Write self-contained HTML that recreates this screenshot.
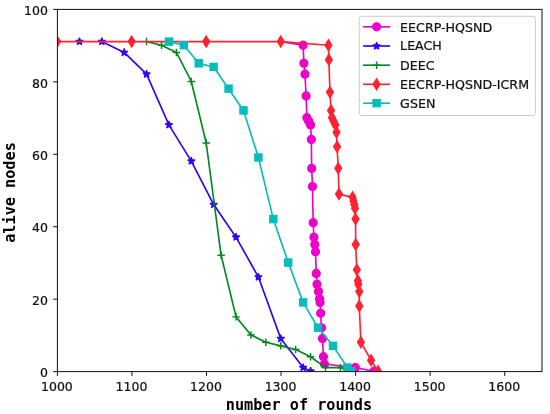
<!DOCTYPE html>
<html lang="en"><head><meta charset="utf-8"><title>alive nodes vs number of rounds</title>
<style>html,body{margin:0;padding:0;background:#fff}svg{display:block}.tk{font-family:"DejaVu Sans","Liberation Sans",sans-serif;font-size:12.5px;fill:#111;stroke:#111;stroke-width:0.22px}.lg{font-size:12.65px}.lb{font-family:"DejaVu Sans Mono","Liberation Mono",monospace;font-weight:bold;font-size:15.2px;fill:#000}</style></head><body>
<svg width="550" height="414" viewBox="0 0 550 414">
<rect width="550" height="414" fill="#fff"/>
<defs>
<clipPath id="ax"><rect x="57.4" y="9.4" width="484.6" height="362.2"/></clipPath>
<circle id="mk_m" r="3.98" fill="#ee00cc" stroke="#ee00cc" stroke-width="1.25"/>
<polygon id="mk_b" points="0,-3.92 0.88,-1.21 3.73,-1.21 1.42,0.46 2.3,3.17 0,1.5 -2.3,3.17 -1.42,0.46 -3.73,-1.21 -0.88,-1.21" fill="#3300ff" stroke="#3300ff" stroke-width="1.25" stroke-linejoin="bevel"/>
<path id="mk_g" d="M-3.75,0H3.75M0,-3.75V3.75" fill="none" stroke="#008a1e" stroke-width="1.45"/>
<polygon id="mk_r" points="0,-5.55 3.45,0 0,5.55 -3.45,0" fill="#ff2233" stroke="#ff2233" stroke-width="1.25" stroke-linejoin="miter"/>
<rect id="mk_c" x="-3.6" y="-3.6" width="7.2" height="7.2" fill="#08bcbc" stroke="#08bcbc" stroke-width="1.25"/>
</defs>
<g clip-path="url(#ax)"><g transform="translate(-0.3,-0.4)">
<polyline points="281.06,42 303.43,45.62 304.17,63.73 305.29,74.6 306.41,96.33 307.16,118.06 309.02,121.68 310.88,125.3 311.63,139.79 312,168.77 312.75,186.88 313.49,223.1 314.24,237.59 315.13,244.83 315.8,252.07 316.55,273.81 317.29,284.67 318.79,291.92 319.83,299.16 320.35,302.78 320.95,313.65 321.77,328.14 322.81,339 323.71,357.11 324.68,364.36 355.62,367.98 374.25,371.6" fill="none" stroke="#ee00cc" stroke-width="1.65" stroke-linejoin="round" stroke-linecap="butt"/>
<use href="#mk_m" x="303.43" y="45.62"/>
<use href="#mk_m" x="304.17" y="63.73"/>
<use href="#mk_m" x="305.29" y="74.6"/>
<use href="#mk_m" x="306.41" y="96.33"/>
<use href="#mk_m" x="307.16" y="118.06"/>
<use href="#mk_m" x="309.02" y="121.68"/>
<use href="#mk_m" x="310.88" y="125.3"/>
<use href="#mk_m" x="311.63" y="139.79"/>
<use href="#mk_m" x="312" y="168.77"/>
<use href="#mk_m" x="312.75" y="186.88"/>
<use href="#mk_m" x="313.49" y="223.1"/>
<use href="#mk_m" x="314.24" y="237.59"/>
<use href="#mk_m" x="315.13" y="244.83"/>
<use href="#mk_m" x="315.8" y="252.07"/>
<use href="#mk_m" x="316.55" y="273.81"/>
<use href="#mk_m" x="317.29" y="284.67"/>
<use href="#mk_m" x="318.79" y="291.92"/>
<use href="#mk_m" x="319.83" y="299.16"/>
<use href="#mk_m" x="320.35" y="302.78"/>
<use href="#mk_m" x="320.95" y="313.65"/>
<use href="#mk_m" x="321.77" y="328.14"/>
<use href="#mk_m" x="322.81" y="339"/>
<use href="#mk_m" x="323.71" y="357.11"/>
<use href="#mk_m" x="324.68" y="364.36"/>
<use href="#mk_m" x="355.62" y="367.98"/>
<use href="#mk_m" x="374.25" y="371.6"/>
<polyline points="102.13,42 124.5,52.86 146.86,74.6 169.23,125.3 191.6,161.52 213.96,204.99 236.33,237.59 258.7,277.43 281.06,339 303.43,367.98 310.88,371.6" fill="none" stroke="#3300ff" stroke-width="1.65" stroke-linejoin="round" stroke-linecap="butt"/>
<use href="#mk_b" x="79.77" y="42"/>
<use href="#mk_b" x="102.13" y="42"/>
<use href="#mk_b" x="124.5" y="52.86"/>
<use href="#mk_b" x="146.86" y="74.6"/>
<use href="#mk_b" x="169.23" y="125.3"/>
<use href="#mk_b" x="191.6" y="161.52"/>
<use href="#mk_b" x="213.96" y="204.99"/>
<use href="#mk_b" x="236.33" y="237.59"/>
<use href="#mk_b" x="258.7" y="277.43"/>
<use href="#mk_b" x="281.06" y="339"/>
<use href="#mk_b" x="303.43" y="367.98"/>
<use href="#mk_b" x="310.88" y="371.6"/>
<polyline points="146.86,42 161.78,45.62 176.69,52.86 191.6,81.84 206.51,143.41 221.42,255.7 236.33,317.27 251.24,335.38 266.15,342.62 281.06,346.25 295.97,349.87 310.88,357.11 325.79,367.98 340.7,367.98 348.16,371.6" fill="none" stroke="#008a1e" stroke-width="1.65" stroke-linejoin="round" stroke-linecap="butt"/>
<use href="#mk_g" x="146.86" y="42"/>
<use href="#mk_g" x="161.78" y="45.62"/>
<use href="#mk_g" x="176.69" y="52.86"/>
<use href="#mk_g" x="191.6" y="81.84"/>
<use href="#mk_g" x="206.51" y="143.41"/>
<use href="#mk_g" x="221.42" y="255.7"/>
<use href="#mk_g" x="236.33" y="317.27"/>
<use href="#mk_g" x="251.24" y="335.38"/>
<use href="#mk_g" x="266.15" y="342.62"/>
<use href="#mk_g" x="281.06" y="346.25"/>
<use href="#mk_g" x="295.97" y="349.87"/>
<use href="#mk_g" x="310.88" y="357.11"/>
<use href="#mk_g" x="325.79" y="367.98"/>
<use href="#mk_g" x="340.7" y="367.98"/>
<use href="#mk_g" x="348.16" y="371.6"/>
<polyline points="57.4,42 131.95,42 206.51,42 281.06,42 328.78,45.62 329.15,60.11 330.27,92.71 331.31,110.82 332.28,118.06 333.99,121.68 335.71,125.3 336.75,132.55 337.35,147.04 338.54,168.77 339.29,194.48 352.86,197.74 353.83,201.37 354.57,204.99 355.32,208.61 355.84,219.48 355.99,244.83 357.11,270.18 358.15,281.05 358.6,284.67 359.57,291.92 359.57,306.4 361.21,342.62 371.42,360.73 378.35,371.6" fill="none" stroke="#ff2233" stroke-width="1.65" stroke-linejoin="round" stroke-linecap="butt"/>
<use href="#mk_r" x="57.4" y="42"/>
<use href="#mk_r" x="131.95" y="42"/>
<use href="#mk_r" x="206.51" y="42"/>
<use href="#mk_r" x="281.06" y="42"/>
<use href="#mk_r" x="328.78" y="45.62"/>
<use href="#mk_r" x="329.15" y="60.11"/>
<use href="#mk_r" x="330.27" y="92.71"/>
<use href="#mk_r" x="331.31" y="110.82"/>
<use href="#mk_r" x="332.28" y="118.06"/>
<use href="#mk_r" x="333.99" y="121.68"/>
<use href="#mk_r" x="335.71" y="125.3"/>
<use href="#mk_r" x="336.75" y="132.55"/>
<use href="#mk_r" x="337.35" y="147.04"/>
<use href="#mk_r" x="338.54" y="168.77"/>
<use href="#mk_r" x="339.29" y="194.48"/>
<use href="#mk_r" x="352.86" y="197.74"/>
<use href="#mk_r" x="353.83" y="201.37"/>
<use href="#mk_r" x="354.57" y="204.99"/>
<use href="#mk_r" x="355.32" y="208.61"/>
<use href="#mk_r" x="355.84" y="219.48"/>
<use href="#mk_r" x="355.99" y="244.83"/>
<use href="#mk_r" x="357.11" y="270.18"/>
<use href="#mk_r" x="358.15" y="281.05"/>
<use href="#mk_r" x="358.6" y="284.67"/>
<use href="#mk_r" x="359.57" y="291.92"/>
<use href="#mk_r" x="359.57" y="306.4"/>
<use href="#mk_r" x="361.21" y="342.62"/>
<use href="#mk_r" x="371.42" y="360.73"/>
<use href="#mk_r" x="378.35" y="371.6"/>
<polyline points="169.23,42 184.14,45.62 199.05,63.73 213.96,67.35 228.87,89.08 243.78,110.82 258.7,157.9 273.61,219.48 288.52,262.94 303.43,302.78 318.34,328.14 333.25,346.25 347.79,367.98 351.51,371.6" fill="none" stroke="#08bcbc" stroke-width="1.65" stroke-linejoin="round" stroke-linecap="butt"/>
<use href="#mk_c" x="169.23" y="42"/>
<use href="#mk_c" x="184.14" y="45.62"/>
<use href="#mk_c" x="199.05" y="63.73"/>
<use href="#mk_c" x="213.96" y="67.35"/>
<use href="#mk_c" x="228.87" y="89.08"/>
<use href="#mk_c" x="243.78" y="110.82"/>
<use href="#mk_c" x="258.7" y="157.9"/>
<use href="#mk_c" x="273.61" y="219.48"/>
<use href="#mk_c" x="288.52" y="262.94"/>
<use href="#mk_c" x="303.43" y="302.78"/>
<use href="#mk_c" x="318.34" y="328.14"/>
<use href="#mk_c" x="333.25" y="346.25"/>
<use href="#mk_c" x="347.79" y="367.98"/>
<use href="#mk_c" x="351.51" y="371.6"/>
</g></g>
<rect x="57.4" y="9.4" width="484.6" height="362.2" fill="none" stroke="#111" stroke-width="1.0"/>
<path d="M57.4,371.6v4.3M131.95,371.6v4.3M206.51,371.6v4.3M281.06,371.6v4.3M355.62,371.6v4.3M430.17,371.6v4.3M504.72,371.6v4.3M57.4,371.6h-4.3M57.4,299.16h-4.3M57.4,226.72h-4.3M57.4,154.28h-4.3M57.4,81.84h-4.3M57.4,9.4h-4.3" stroke="#111" stroke-width="1.0" fill="none"/>
<text class="tk" x="56.9" y="390.5" text-anchor="middle">1000</text>
<text class="tk" x="131.45" y="390.5" text-anchor="middle">1100</text>
<text class="tk" x="206.01" y="390.5" text-anchor="middle">1200</text>
<text class="tk" x="280.56" y="390.5" text-anchor="middle">1300</text>
<text class="tk" x="355.12" y="390.5" text-anchor="middle">1400</text>
<text class="tk" x="429.67" y="390.5" text-anchor="middle">1500</text>
<text class="tk" x="504.22" y="390.5" text-anchor="middle">1600</text>
<text class="tk" x="47.9" y="377.3" text-anchor="end">0</text>
<text class="tk" x="47.9" y="304.86" text-anchor="end">20</text>
<text class="tk" x="47.9" y="232.42" text-anchor="end">40</text>
<text class="tk" x="47.9" y="159.98" text-anchor="end">60</text>
<text class="tk" x="47.9" y="87.54" text-anchor="end">80</text>
<text class="tk" x="47.9" y="15.1" text-anchor="end">100</text>
<text class="lb" x="298.9" y="409.5" text-anchor="middle">number of rounds</text>
<text class="lb" transform="translate(14.7,192.5) rotate(-90)" text-anchor="middle">alive nodes</text>
<rect x="359.3" y="16.3" width="176.1" height="99.2" rx="2.2" ry="2.2" fill="#fff" fill-opacity="0.8" stroke="#cccccc" stroke-width="1"/>
<path d="M363.1,26.8H390.1" stroke="#ee00cc" stroke-width="1.65" fill="none"/>
<use href="#mk_m" x="376.6" y="26.8"/>
<text class="tk lg" x="400.1" y="31.8">EECRP-HQSND</text>
<path d="M363.1,46.0H390.1" stroke="#3300ff" stroke-width="1.65" fill="none"/>
<use href="#mk_b" x="376.6" y="46.0"/>
<text class="tk lg" x="400.1" y="50.4">LEACH</text>
<path d="M363.1,65.2H390.1" stroke="#008a1e" stroke-width="1.65" fill="none"/>
<use href="#mk_g" x="376.6" y="65.2"/>
<text class="tk lg" x="400.1" y="69.6">DEEC</text>
<path d="M363.1,84.3H390.1" stroke="#ff2233" stroke-width="1.65" fill="none"/>
<use href="#mk_r" x="376.6" y="84.3"/>
<text class="tk lg" x="400.1" y="89.4">EECRP-HQSND-ICRM</text>
<path d="M363.1,103.2H390.1" stroke="#08bcbc" stroke-width="1.65" fill="none"/>
<use href="#mk_c" x="376.6" y="103.2"/>
<text class="tk lg" x="400.1" y="108.0">GSEN</text>
</svg></body></html>
